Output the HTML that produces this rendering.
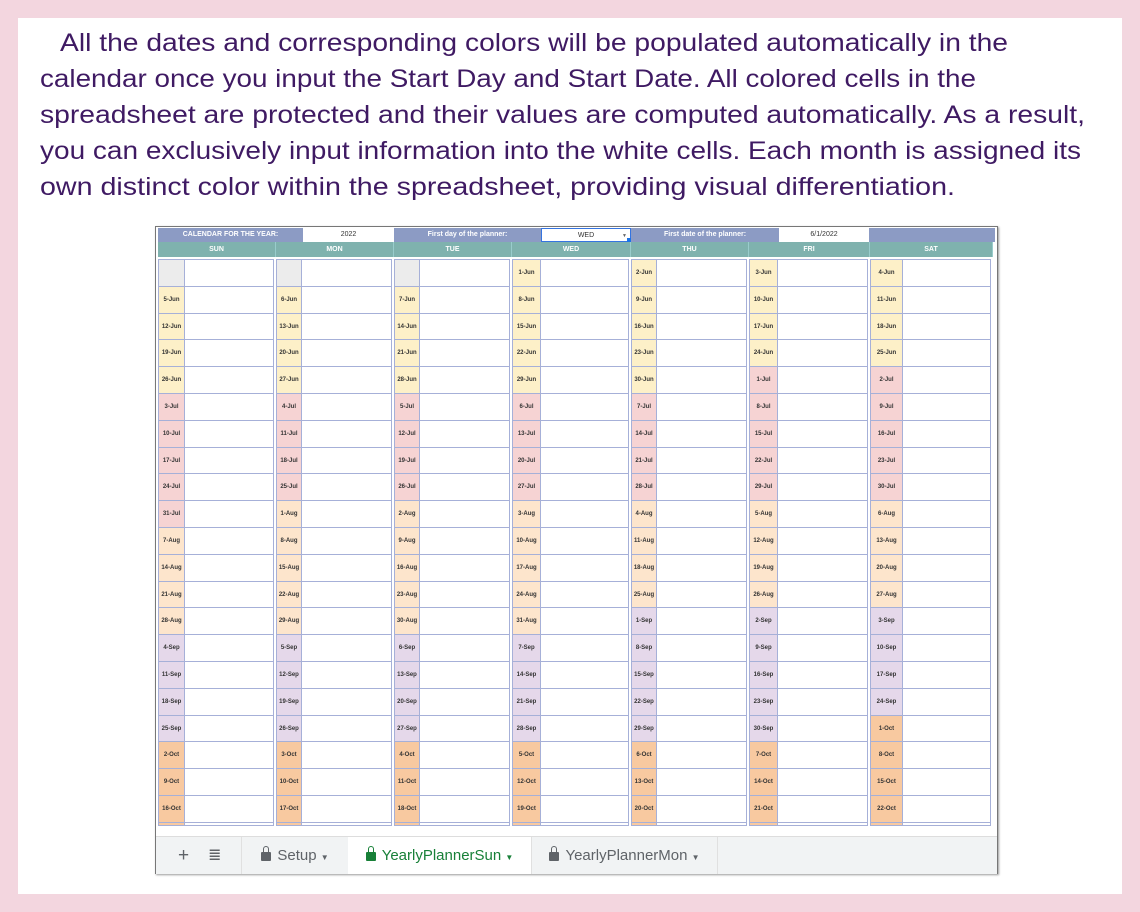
<!DOCTYPE html>
<html><head><meta charset="utf-8"><style>
body{margin:0;width:1140px;height:912px;background:#f3d6df;position:relative;overflow:hidden;font-family:"Liberation Sans",sans-serif}
#frame{position:absolute;left:18px;top:18px;width:1104px;height:876px;background:#fff}
.line{position:absolute;left:40px;font-size:25px;color:#3f1a63;white-space:nowrap;font-family:"Liberation Sans",sans-serif;transform-origin:0 0}
#sheet{position:absolute;left:155px;top:226px;width:841px;height:646px;border:1px solid #777;background:#fff;box-shadow:1px 1px 2px #999}
.abs{position:absolute;box-sizing:border-box}
.h1{top:1px;height:14px;font-size:7px;font-weight:bold;color:#fff;text-align:center;line-height:14px;background:#8c9bc4}
.hw{background:#fff;color:#333;font-weight:normal}
.dh{top:15px;height:15px;background:#7fb2ae;color:#fff;font-size:7px;font-weight:bold;text-align:center;line-height:15px;border-right:1px solid #9cc}
.dc{font-size:6px;font-weight:bold;color:#333;text-align:center;border:1px solid #a6b0d8}
.nc{border:1px solid #a6b0d8;background:#fff}
#tabs{position:absolute;left:0;top:609px;width:841px;height:37px;background:#f1f3f4;border-top:1px solid #ddd;font-size:15px;color:#5f6368}
.tab{position:absolute;top:0;height:37px;line-height:37px;border-right:1px solid #e0e0e0}
.lock{display:inline-block;width:10px;height:9px;background:currentColor;border-radius:1px;position:relative;margin-right:6px;vertical-align:-1px}
.lock:before{content:"";position:absolute;left:2px;top:-6px;width:4px;height:6px;border:1.5px solid currentColor;border-bottom:none;border-radius:3px 3px 0 0}
</style></head><body>
<div id="frame"></div>
<div class="line" style="top:29px;left:60px" data-w="948">All the dates and corresponding colors will be populated automatically in the</div>
<div class="line" style="top:65px" data-w="936">calendar once you input the Start Day and Start Date. All colored cells in the</div>
<div class="line" style="top:101px" data-w="1045">spreadsheet are protected and their values are computed automatically. As a result,</div>
<div class="line" style="top:137px" data-w="1041">you can exclusively input information into the white cells. Each month is assigned its</div>
<div class="line" style="top:173px" data-w="915">own distinct color within the spreadsheet, providing visual differentiation.</div>
<div id="sheet">
<div class="abs h1" style="left:2px;width:145px">CALENDAR FOR THE YEAR:</div>
<div class="abs h1 hw" style="left:147px;width:91px">2022</div>
<div class="abs h1" style="left:238px;width:147px">First day of the planner:</div>
<div class="abs h1 hw" style="left:385px;width:90px;border:1px solid #3574e0">WED<span style="position:absolute;right:3px;font-size:5px;color:#666">▼</span></div>
<div class="abs" style="left:471px;top:11px;width:5px;height:5px;background:#1a73e8"></div>
<div class="abs h1" style="left:475px;width:148px">First date of the planner:</div>
<div class="abs h1 hw" style="left:623px;width:90px">6/1/2022</div>
<div class="abs h1" style="left:713px;width:126px"></div>
<div id="grid"></div>
<div id="tabs">
<div class="tab" style="left:22px;font-size:19px;border:none">+</div>
<div class="tab" style="left:52px;border:none;font-size:16px">≣</div>
<div class="tab" style="left:85px;width:106px;border-left:1px solid #e0e0e0;text-align:center"><span class="lock"></span>Setup <span style="font-size:8px">▼</span></div>
<div class="tab" style="left:192px;width:183px;background:#fff;color:#188038;text-align:center"><span class="lock"></span>YearlyPlannerSun <span style="font-size:8px">▼</span></div>
<div class="tab" style="left:376px;width:185px;text-align:center"><span class="lock"></span>YearlyPlannerMon <span style="font-size:8px">▼</span></div>
</div>
</div>
<script>
const dayNames=["SUN","MON","TUE","WED","THU","FRI","SAT"];
const monthNames=["Jan","Feb","Mar","Apr","May","Jun","Jul","Aug","Sep","Oct","Nov","Dec"];
const monthColors={5:"#fdf0c8",6:"#f6d3d3",7:"#fde5cc",8:"#e5d8ea",9:"#f8c9a0"};
const startYear=2022, startMonth=5, startDay=1, startWeekday=3;
const rowCount=22;
const colX=[2,120,238,356,475,593,714,837];
const dateW=[27,26,26,29,26,29,33];
document.querySelectorAll('.line').forEach(l=>{
  const w=l.getBoundingClientRect().width;
  l.style.transform='scaleX('+(parseFloat(l.dataset.w)/w)+')';
});
const sheet=document.getElementById('grid').parentNode;
dayNames.forEach((d,i)=>{
  const el=document.createElement('div');
  el.className='abs dh';
  el.style.left=colX[i]+'px';el.style.width=(colX[i+1]-colX[i])+'px';
  el.textContent=d;
  
  
  sheet.appendChild(el);
});
const top0=32,rowH=26.8;
for(let r=0;r<rowCount;r++){
  for(let c=0;c<7;c++){
    const idx=r*7+c-startWeekday;
    const y=top0+r*rowH;
    const h=(r==rowCount-1)?(599-y):rowH+1;
    const dc=document.createElement('div');
    dc.className='abs dc';
    dc.style.left=colX[c]+'px';dc.style.top=y+'px';dc.style.width=dateW[c]+'px';dc.style.height=h+'px';dc.style.lineHeight=rowH+'px';
    if(idx<0){dc.style.background='#ececec';}
    else{
      const dt=new Date(startYear,startMonth,startDay+idx);
      dc.style.background=monthColors[dt.getMonth()]||'#fff';
      if(r<rowCount-1) dc.textContent=dt.getDate()+'-'+monthNames[dt.getMonth()];
    }
    
    
    sheet.appendChild(dc);
    const nc=document.createElement('div');
    nc.className='abs nc';
    nc.style.left=(colX[c]+dateW[c]-1)+'px';nc.style.top=y+'px';nc.style.width=(colX[c+1]-colX[c]-dateW[c]-1)+'px';nc.style.height=h+'px';
    
    
    sheet.appendChild(nc);
  }
}
</script>
</body></html>
